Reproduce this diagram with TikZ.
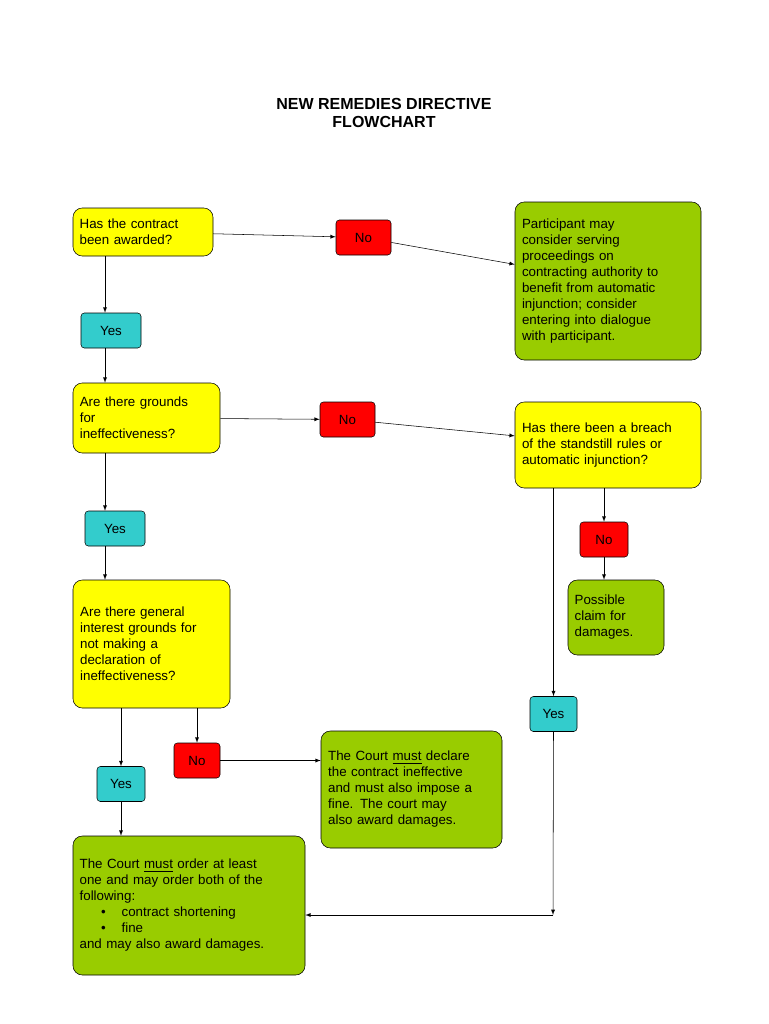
\documentclass[tikz,border=0pt]{standalone}
\usepackage{fontspec}
\setmainfont{Liberation Sans}
\usetikzlibrary{arrows}
\definecolor{qyellow}{HTML}{FFFF00}
\definecolor{nored}{HTML}{FF0000}
\definecolor{yescyan}{HTML}{33CCCC}
\definecolor{endgreen}{HTML}{99CC00}
\begin{document}
\begin{tikzpicture}[x=0.75pt,y=-0.75pt,->,>=latex,
  every node/.style={font=\fontsize{10}{12}\selectfont},
  box/.style={draw,rounded corners=7pt,align=left,inner sep=5pt},
  question/.style={box,fill=qyellow},
  outcome/.style={box,fill=endgreen},
  tag/.style={draw,rounded corners=2.5pt,minimum height=26.25pt,inner sep=2pt,anchor=center}]

  \useasboundingbox (0,0) rectangle (768,1024);

  % title
  \node[font=\fontsize{12}{14}\selectfont\bfseries,align=center] (title) at (384,113)
    {NEW REMEDIES DIRECTIVE\\FLOWCHART};

  % questions
  \node[question,minimum width=105pt,minimum height=36pt,text width=95pt] (q1) at (143,232)
    {Has the contract\\been awarded?};
  \node[question,minimum width=110.25pt,minimum height=52.5pt,text width=100pt] (q2) at (146.5,418)
    {Are there grounds\\for\\ineffectiveness?};
  \node[question,minimum width=139.5pt,minimum height=64.5pt,text width=129pt] (q3) at (608,445)
    {Has there been a breach\\of the standstill rules or\\automatic injunction?};
  \node[question,minimum width=117.75pt,minimum height=96pt,text width=107pt] (q4) at (151.5,644)
    {Are there general\\interest grounds for\\not making a\\declaration of\\ineffectiveness?};

  % answers
  \node[tag,fill=nored,minimum width=41.25pt] (no1) at (363.5,237.5) {No};
  \node[tag,fill=nored,minimum width=41.25pt] (no2) at (347.5,419.5) {No};
  \node[tag,fill=nored,minimum width=36pt] (no3) at (604,539.5) {No};
  \node[tag,fill=nored,minimum width=34.5pt] (no4) at (197,760.5) {No};
  \node[tag,fill=yescyan,minimum width=45pt] (yes1) at (111,330.5) {Yes};
  \node[tag,fill=yescyan,minimum width=45pt] (yes2) at (115,528.5) {Yes};
  \node[tag,fill=yescyan,minimum width=35.25pt] (yes3) at (553.5,714) {Yes};
  \node[tag,fill=yescyan,minimum width=36pt] (yes4) at (121,784) {Yes};

  % outcomes
  \node[outcome,minimum width=139.5pt,minimum height=118.5pt,text width=129pt] (p1) at (608,281)
    {Participant may\\consider serving\\proceedings on\\contracting authority to\\benefit from automatic\\injunction; consider\\entering into dialogue\\with participant.};
  \node[outcome,minimum width=72pt,minimum height=56.25pt,text width=62pt] (claim) at (616,617.5)
    {Possible\\claim for\\damages.};
  \node[outcome,minimum width=135.75pt,minimum height=87.75pt,text width=125pt] (court1) at (411.5,789.5)
    {The Court \underline{must} declare\\the contract ineffective\\and must also impose a\\fine. The court may\\also award damages.};
  \node[outcome,minimum width=174pt,minimum height=104.25pt,text width=164pt] (court2) at (189,905.5)
    {The Court \underline{must} order at least\\one and may order both of the\\following:\\
     \hspace{16pt}\textbullet\hspace{12pt}contract shortening\\
     \hspace{16pt}\textbullet\hspace{12pt}fine\\and may also award damages.};

  \coordinate (turn) at (553,915);

  % connectors
  \draw (q1) -- (no1);
  \draw (no1) -- (p1);
  \draw ([xshift=-4.5pt]yes1.north |- q1.south) -- ([xshift=-4.5pt]yes1.north);
  \draw ([xshift=-4.5pt]yes1.south) -- ([xshift=-4.5pt]yes1.south |- q2.north);
  \draw (q2) -- (no2);
  \draw (no2) -- (q3);
  \draw ([xshift=-7.5pt]yes2.north |- q2.south) -- ([xshift=-7.5pt]yes2.north);
  \draw ([xshift=-7.5pt]yes2.south) -- ([xshift=-7.5pt]yes2.south |- q4.north);
  \draw (no3.north |- q3.south) -- (no3.north);
  \draw (no3.south) -- (no3.south |- claim.north);
  \draw (yes3.north |- q3.south) -- (yes3.north);
  \draw (yes3.south) -- (turn);
  \draw[-] (turn) -- (turn);
  \draw (turn) -- (turn -| court2.east);
  \draw (yes4.north |- q4.south) -- (yes4.north);
  \draw (yes4.south) -- (yes4.south |- court2.north);
  \draw (no4.north |- q4.south) -- (no4.north);
  \draw (no4) -- (court1.west |- no4);
\end{tikzpicture}
\end{document}
